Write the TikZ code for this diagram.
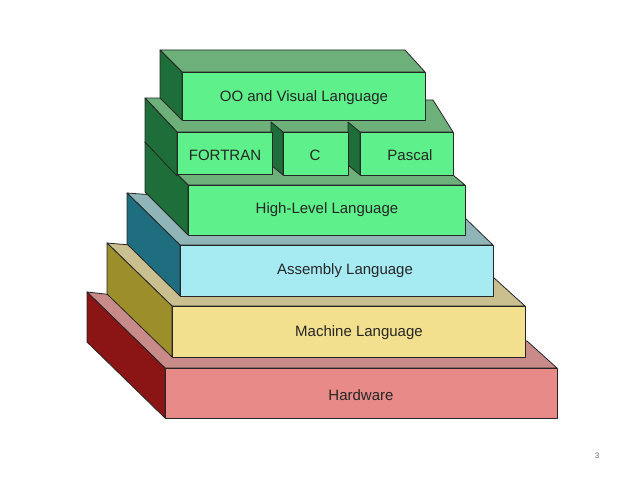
\documentclass[tikz,border=0pt]{standalone}
\usepackage{fontspec}
\setmainfont{Liberation Sans}
\definecolor{hwF}{HTML}{E88A87}\definecolor{hwL}{HTML}{8B1414}\definecolor{hwT}{HTML}{C98A8A}
\definecolor{mlF}{HTML}{F2E08E}\definecolor{mlL}{HTML}{9C8E2A}\definecolor{mlT}{HTML}{CABF8E}
\definecolor{asF}{HTML}{A6EAF2}\definecolor{asL}{HTML}{1E6E80}\definecolor{asT}{HTML}{90B5B8}
\definecolor{grF}{HTML}{5EF08A}\definecolor{grL}{HTML}{1E6E3A}\definecolor{grT}{HTML}{6DB07A}
\newcommand\layerblock[9]{%
 % #1 prefix colour, #2 x1 #3 y1 #4 x2 #5 y2 #6 lx #7 ly #8 rx #9 ry
 \filldraw[face,fill=#1T] (#2,#3)--(#4,#3)--(#4+#8,#3+#9)--(#2+#6,#3+#7)--cycle;
 \filldraw[face,fill=#1L] (#2,#3)--(#2+#6,#3+#7)--(#2+#6,#5+#7)--(#2,#5)--cycle;
 \filldraw[face,fill=#1F] (#2,#3) rectangle (#4,#5);}
\begin{document}
\begin{tikzpicture}[x=1pt,y=-1pt,face/.style={draw=black!85,line width=0.8pt,line join=round},
 lbl/.style={font=\fontsize{15}{17}\selectfont,text=black!85}]
\useasboundingbox[fill=white] (0,0) rectangle (638,478);
\layerblock{hw}{165}{368}{557}{418}{-78}{-76}{-30}{-27}
\layerblock{ml}{172}{306}{525}{357}{-65}{-63}{-32}{-29}
\layerblock{as}{180}{245}{493}{296}{-53}{-52}{-28}{-27}
\layerblock{gr}{188}{185}{465}{235}{-43}{-43}{-12}{-10}
% tier of FORTRAN, C, Pascal
\filldraw[face,fill=grT] (177,132)--(453,132)--(433,100)--(145,98)--cycle;
\filldraw[face,fill=grL] (177,132)--(145,98)--(145,142)--(177,176)--cycle;
\filldraw[face,fill=grL] (283,132)--(271,122)--(271,165)--(283,175)--cycle;
\filldraw[face,fill=grL] (360,132)--(348,122)--(348,165)--(360,175)--cycle;
\filldraw[face,fill=grF] (177,132) rectangle (272,174);
\filldraw[face,fill=grF] (283,132) rectangle (348,175);
\filldraw[face,fill=grF] (360,132) rectangle (453,175);
\layerblock{gr}{182}{72}{425}{120}{-22}{-22}{-20}{-22}
\node[lbl] (hw) at (361,395) {Hardware};
\node[lbl] (ml) at (359,333) {Machine Language};
\node[lbl] (as) at (345,271) {Assembly Language};
\node[lbl] (hl) at (327,210) {High-Level Language};
\node[lbl] (ft) at (225,155) {FORTRAN};
\node[lbl] (c) at (315,155) {C};
\node[lbl] (pa) at (410,155) {Pascal};
\node[lbl] (oo) at (304,98) {OO and Visual Language};
\node[font=\fontsize{8}{9}\selectfont,text=black!60] (pg) at (597,456) {3};
\end{tikzpicture}
\end{document}
